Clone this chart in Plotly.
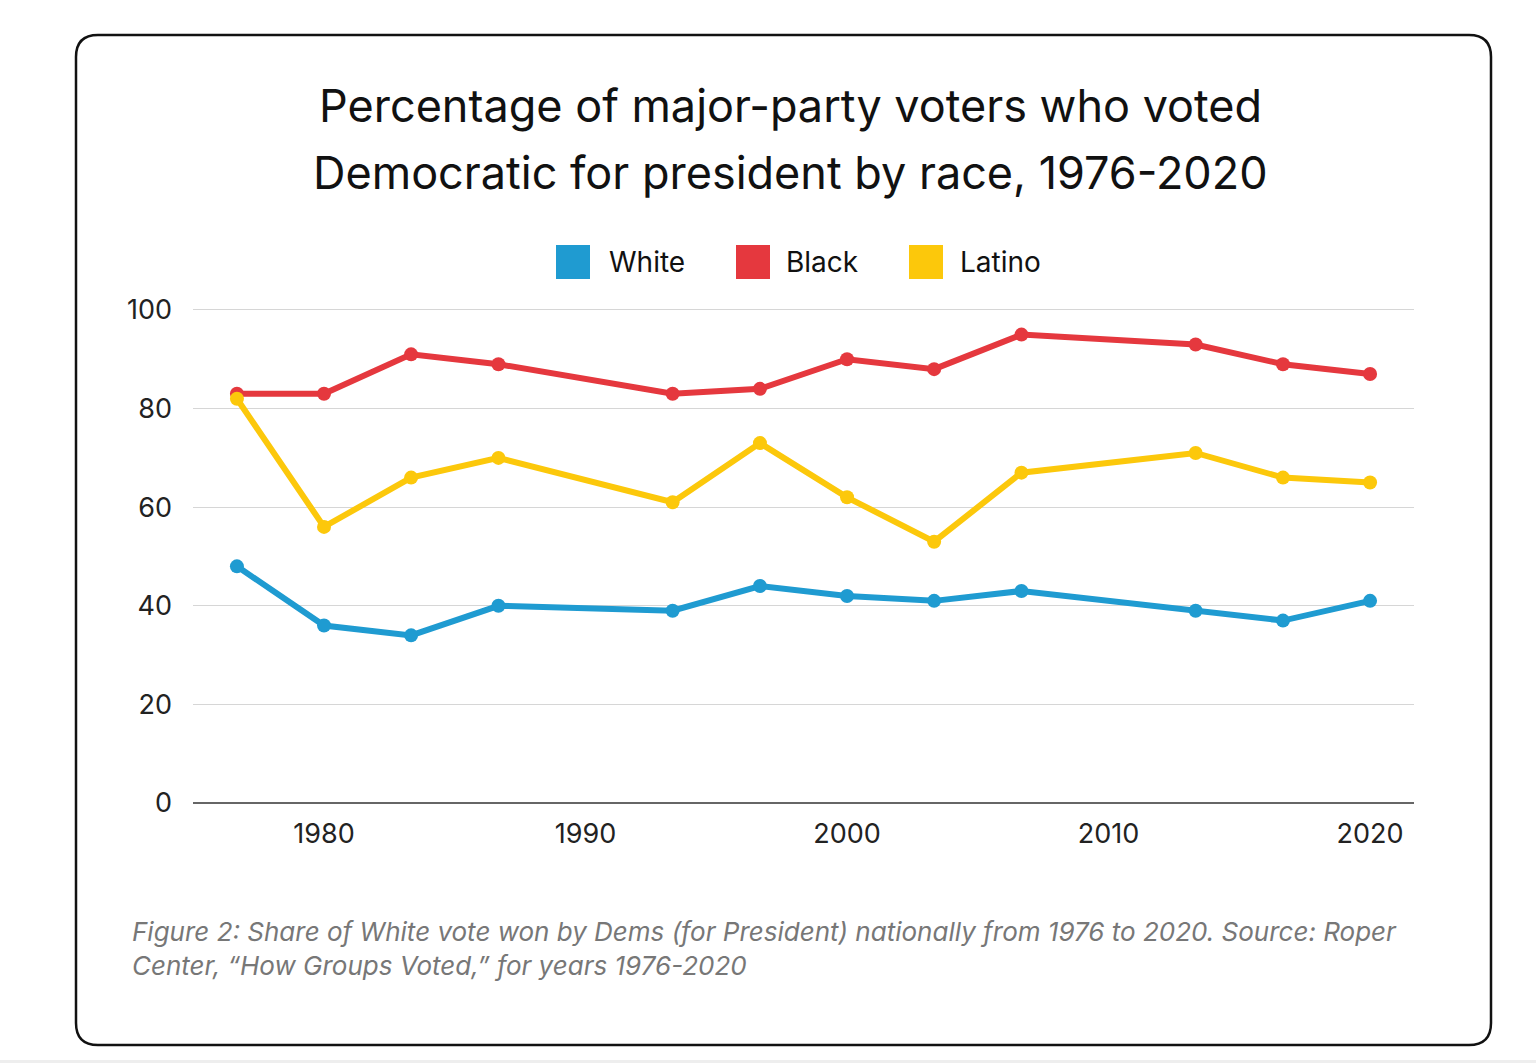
import plotly.graph_objects as go

# Data (x positions as plotted in the reference)
x_pos = [1976.67, 1980.0, 1983.33, 1986.67, 1993.33, 1996.67, 2000.0, 2003.33, 2006.67, 2013.33, 2016.67, 2020.0]
white = [48, 36, 34, 40, 39, 44, 42, 41, 43, 39, 37, 41]
black = [83, 83, 91, 89, 83, 84, 90, 88, 95, 93, 89, 87]
latino = [82, 56, 66, 70, 61, 73, 62, 53, 67, 71, 66, 65]
series_names = ["White", "Black", "Latino"]
colors = ["#1f9bd1", "#e5383e", "#fcc80b"]
x_ticks = [1980, 1990, 2000, 2010, 2020]
y_ticks = [0, 20, 40, 60, 80, 100]
title_lines = ["Percentage of major-party voters who voted",
               "Democratic for president by race, 1976-2020"]

W, H = 1536, 1063
L, R, T, B = 193, 1414, 308, 803
YMAX = 100.4

def fx(px):
    return (px - L) / (R - L)

def fy(py):
    return (B - py) / (B - T)

fig = go.Figure()
for name, vals, c in zip(series_names, [white, black, latino], colors):
    fig.add_trace(go.Scatter(x=x_pos, y=vals, name=name, mode="lines+markers",
                             line=dict(color=c, width=6),
                             marker=dict(color=c, size=14),
                             showlegend=False))

FONT = "Inter"

# rounded border
x0, x1, y0, y1, r = 76, 1491, 35, 1045, 22
path = (f"M {fx(x0+r)} {fy(y0)} L {fx(x1-r)} {fy(y0)} Q {fx(x1)} {fy(y0)} {fx(x1)} {fy(y0+r)} "
        f"L {fx(x1)} {fy(y1-r)} Q {fx(x1)} {fy(y1)} {fx(x1-r)} {fy(y1)} "
        f"L {fx(x0+r)} {fy(y1)} Q {fx(x0)} {fy(y1)} {fx(x0)} {fy(y1-r)} "
        f"L {fx(x0)} {fy(y0+r)} Q {fx(x0)} {fy(y0)} {fx(x0+r)} {fy(y0)} Z")
shapes = [dict(type="path", xref="paper", yref="paper", path=path,
               line=dict(color="#111", width=2.5), layer="below"),
          dict(type="rect", xref="paper", yref="paper", x0=fx(0), x1=fx(W), y0=fy(1060), y1=fy(H),
               fillcolor="#eeeeee", line=dict(width=0), layer="below")]

annotations = []
# title
for line, ty in zip(title_lines, [105, 172]):
    annotations.append(dict(x=fx(790), y=fy(ty), xref="paper", yref="paper", text=line,
                            showarrow=False, xanchor="center", yanchor="middle",
                            font=dict(family=FONT, size=45, color="#111")))
# legend
leg_sq = [556, 736, 909]
leg_tx = [607, 784, 958]
for name, c, sx, tx in zip(series_names, colors, leg_sq, leg_tx):
    shapes.append(dict(type="rect", xref="paper", yref="paper", x0=fx(sx), x1=fx(sx + 34),
                       y0=fy(279), y1=fy(245), fillcolor=c, line=dict(width=0)))
    annotations.append(dict(x=fx(tx), y=fy(262), xref="paper", yref="paper", text=name,
                            showarrow=False, xanchor="left", yanchor="middle",
                            font=dict(family=FONT, size=28, color="#111")))

# caption
annotations.append(dict(x=fx(130), y=fy(914), xref="paper", yref="paper",
                        text="<i>Figure 2: Share of White vote won by Dems (for President) nationally from 1976 to 2020. Source: Roper<br>Center, “How Groups Voted,” for years 1976-2020</i>",
                        showarrow=False, xanchor="left", yanchor="top", align="left",
                        font=dict(family=FONT, size=26, color="#777")))

fig.update_layout(
    width=W, height=H,
    margin=dict(l=L, r=W - R, t=T, b=H - B, pad=0),
    paper_bgcolor="white", plot_bgcolor="white",
    shapes=shapes, annotations=annotations,
    xaxis=dict(range=[1974.99, 2021.68], tickvals=x_ticks, showgrid=False, zeroline=False,
               showline=False, ticks="", ticklabelstandoff=12,
               tickfont=dict(family=FONT, size=27, color="#222")),
    yaxis=dict(range=[0, YMAX], tickvals=y_ticks, showgrid=True, gridcolor="#d6d6d6", gridwidth=1.2,
               zeroline=True, zerolinecolor="#666", zerolinewidth=2, showline=False, ticks="",
               ticklabelstandoff=20, tickfont=dict(family=FONT, size=27, color="#222")),
)
fig.write_html("out.html")
